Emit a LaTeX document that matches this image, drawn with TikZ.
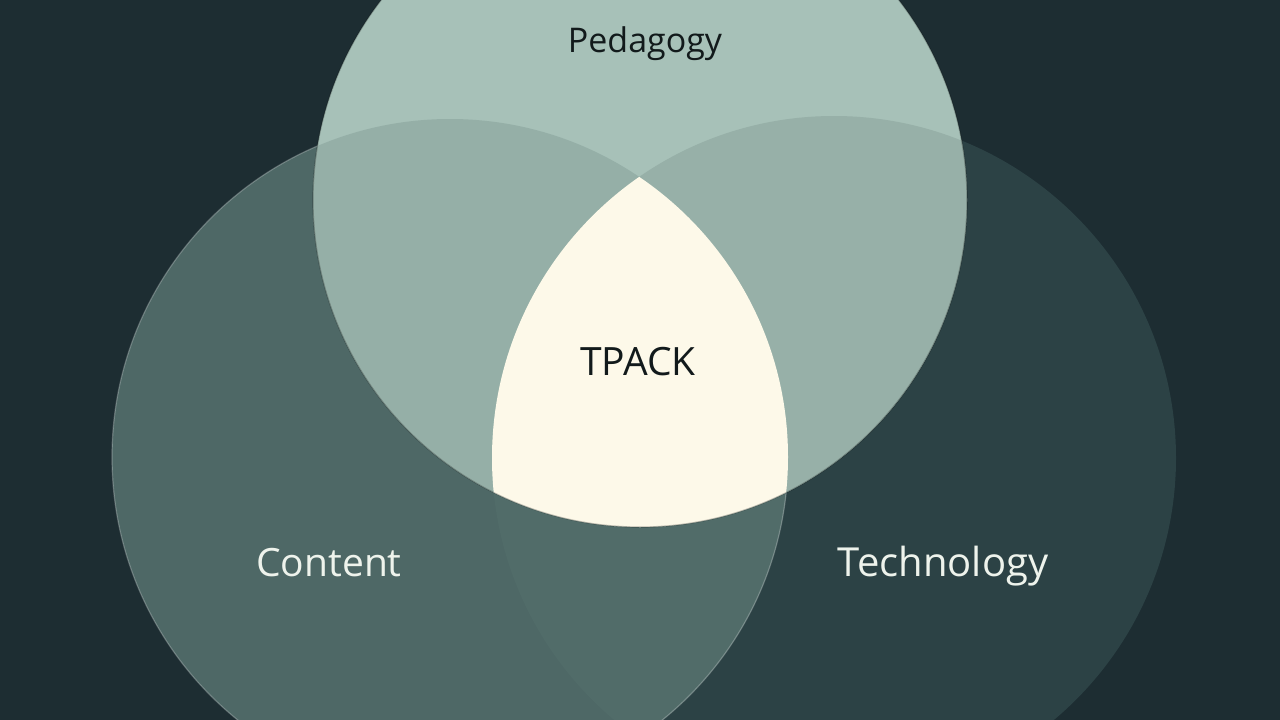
\documentclass[tikz,border=0pt]{standalone}
\usepackage{fontspec}
\setmainfont{Open Sans}
\usepackage{tikz}
\usetikzlibrary{positioning}

\definecolor{bgdark}{HTML}{1D2D32}
\definecolor{pedfill}{HTML}{A7C1B8}
\definecolor{confill}{HTML}{4E6866}
\definecolor{tecfill}{HTML}{2C4245}
\definecolor{pcfill}{HTML}{95AFA7}
\definecolor{ptfill}{HTML}{97B0A8}
\definecolor{ctfill}{HTML}{516C69}
\definecolor{corefill}{HTML}{FDF9E9}
\definecolor{darktext}{HTML}{121A1B}
\definecolor{lighttext}{HTML}{EEF3EC}

\begin{document}
\begin{tikzpicture}[x=1pt, y=-1pt,
    circlelabel/.style={font=\fontsize{39}{44}\selectfont, inner sep=0pt, anchor=base},
    rim/.style={line width=1.2pt, draw opacity=0.25}]
	% canvas
	\useasboundingbox (0,0) rectangle (1280,720);
	\clip (0,0) rectangle (1280,720);
	\fill[bgdark] (0,0) rectangle (1280,720);

	% circle centres
	\coordinate (ped) at (640,200);
	\coordinate (con) at (450,457);
	\coordinate (tec) at (834,458);

	% Technology and Content
	\fill[tecfill] (tec) circle (342pt);
	\fill[confill] (con) circle (338pt);
	\begin{scope}
		\clip (con) circle (338pt);
		\fill[ctfill] (tec) circle (342pt);
	\end{scope}
	\draw[rim, white] (con) circle (338pt);

	% Pedagogy on top
	\fill[pedfill] (ped) circle (327pt);
	\begin{scope}
		\clip (ped) circle (327pt);
		\fill[pcfill] (con) circle (338pt);
		\fill[ptfill] (tec) circle (342pt);
		\clip (con) circle (338pt);
		\fill[corefill] (tec) circle (342pt);
	\end{scope}
	\draw[rim, black] (ped) circle (327pt);

	% labels
	\node[circlelabel, darktext, font=\fontsize{34}{40}\selectfont] (pedlabel) at (645,52) {Pedagogy};
	\node[circlelabel, darktext] (core) at (638,375) {TPACK};
	\node[circlelabel, lighttext] (conlabel) at (329,576) {Content};
	\node[circlelabel, lighttext, font=\fontsize{40}{46}\selectfont] (teclabel) at (943,576) {Technology};
\end{tikzpicture}
\end{document}
